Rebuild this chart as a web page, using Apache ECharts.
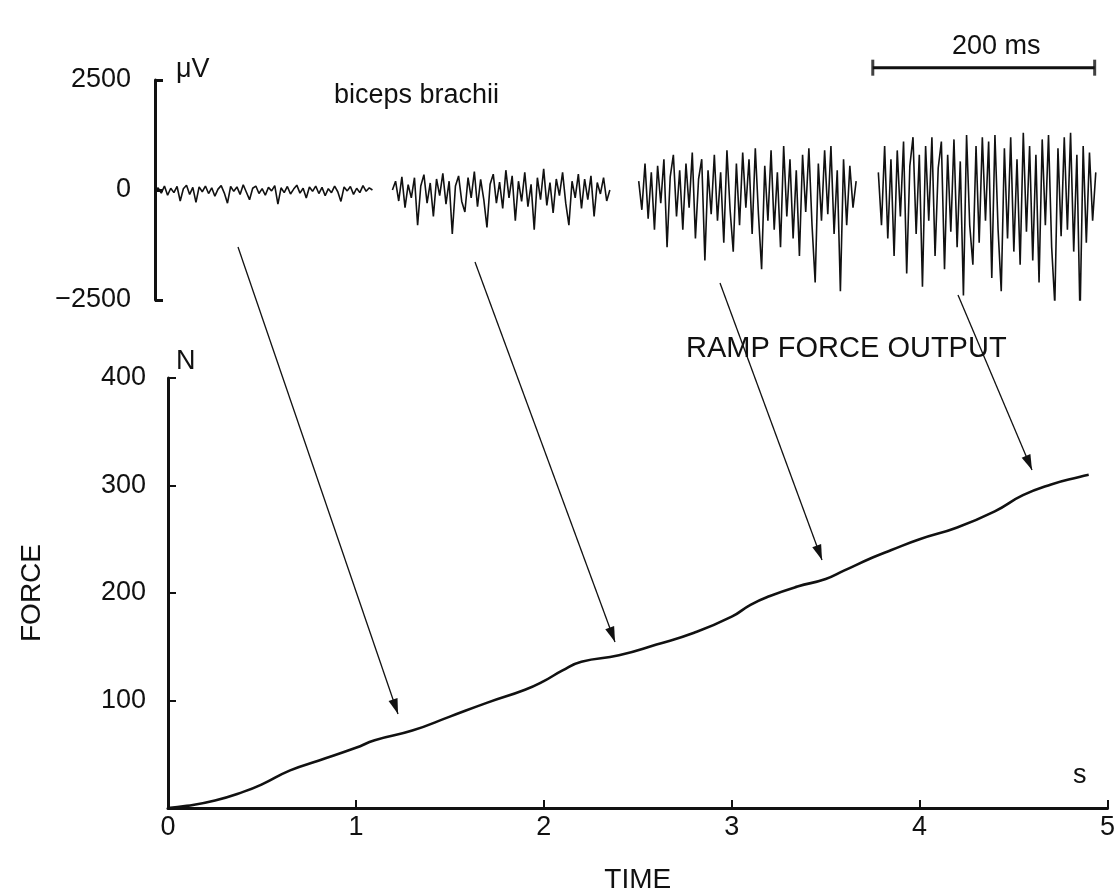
<!DOCTYPE html>
<html><head><meta charset="utf-8">
<script src="https://cdn.jsdelivr.net/npm/echarts@6/dist/echarts.min.js"></script>
<style>html,body{margin:0;padding:0;background:#fff}#c{width:1118px;height:895px}</style>
</head><body><div id="c"></div>
<script>
// EMG segments (µV), x in ms
const segStarts = [0, 214, 436, 652];
const segLen = 196;
const emg1 = [0,50,-70,90,-120,40,-60,80,-250,30,110,-100,60,-280,70,-40,90,-80,50,-140,20,100,-70,-300,80,-30,70,-100,120,-50,-220,40,90,-80,30,-120,60,-20,100,-320,50,-60,80,-90,20,110,-70,40,-180,70,-30,90,-80,60,-130,30,-60,90,-40,-260,70,-20,80,-100,40,-60,100,-30,50,0];
const emg2 = [0,200,-250,300,-400,120,-180,280,-800,90,350,-300,160,-600,250,-130,380,-320,200,-1000,90,320,-260,-500,280,-180,420,-380,240,-220,-850,130,360,-300,180,-420,450,-180,320,-700,200,-260,400,-380,130,-900,280,-220,480,-350,170,-520,250,-130,400,-300,-800,200,-180,360,-420,250,-220,320,-600,170,-90,280,-250,0];
const emg3 = [200,-450,600,-650,400,-900,550,-300,700,-1300,300,800,-600,450,-900,600,-400,850,-1100,250,700,-1600,450,-550,800,-700,400,-1200,900,-450,-1400,600,-800,850,-400,700,-1000,950,-550,-1800,550,-700,900,-900,400,-1300,1000,-600,700,-1100,450,-1500,800,-500,950,-800,-2100,600,-700,900,-550,1000,-1000,450,-2300,700,-800,550,-400,200];
const emg4 = [400,-800,1000,-1100,700,-1500,900,-600,1100,-1900,550,1200,-1000,800,-2200,1000,-700,1200,-1500,500,1100,-1800,800,-950,1150,-1300,650,-2400,1250,-800,-1700,1000,-1200,1200,-700,1100,-2000,1250,-900,-2300,950,-1100,1200,-1400,700,-1700,1300,-950,1000,-1600,800,-2100,1150,-800,1250,-1300,-2600,950,-1050,1200,-900,1300,-1400,800,-2900,1000,-1200,850,-700,400];
const emgSegs = [emg1, emg2, emg3, emg4];
const scaleBar = [647, 847];
const scaleBarLevel = 2780;
// Force ramp
const forceT = [0,0.1,0.25,0.4,0.5,0.65,0.8,1.0,1.1,1.3,1.5,1.7,1.9,2.0,2.1,2.2,2.4,2.6,2.8,3.0,3.1,3.2,3.35,3.5,3.6,3.75,3.85,4.0,4.2,4.4,4.55,4.7,4.85,4.9];
const forceN = [0,2,7,15,22,35,44,56,63,72,85,98,110,118,128,136,142,152,163,178,189,197,206,213,221,233,240,250,261,276,291,301,308,310];
const xTicks = [0,1,2,3,4,5];
const yTicks = [100,200,300,400];

const F = 'Liberation Sans, Arial, sans-serif';
const chart = echarts.init(document.getElementById('c'));
const emgSeries = emgSegs.map((arr, k) => ({
  type:'line', xAxisIndex:0, yAxisIndex:0, showSymbol:false, silent:true,
  lineStyle:{color:'#111', width:1.6},
  data: arr.map((v,i)=>[segStarts[k] + i*segLen/(arr.length-1), v])
}));
chart.setOption({
  animation:false,
  grid:[{left:155,right:20,top:80,height:220},{left:168,right:5,top:378,bottom:85}],
  xAxis:[
    {gridIndex:0,type:'value',min:0,max:850,show:false},
    {gridIndex:1,type:'value',min:0,max:5,interval:1,
     axisLine:{lineStyle:{color:'#111',width:3}},
     axisTick:{inside:true,length:8,lineStyle:{color:'#111',width:2}},
     splitLine:{show:false},
     axisLabel:{color:'#111',fontSize:27,fontFamily:F,margin:6,showMaxLabel:true,
       formatter:v=>xTicks.includes(v)?String(v):''},
     name:'TIME',nameLocation:'middle',nameGap:58,nameTextStyle:{color:'#111',fontSize:28,fontFamily:F}}
  ],
  yAxis:[
    {gridIndex:0,type:'value',min:-2500,max:2500,interval:2500,
     axisLine:{show:true,lineStyle:{color:'#111',width:3}},
     axisTick:{show:true,inside:true,length:8,lineStyle:{color:'#111',width:3}},
     splitLine:{show:false},
     axisLabel:{color:'#111',fontSize:27,fontFamily:F,margin:24,formatter:v=>v<0?'\u2212'+(-v):String(v)}},
    {gridIndex:1,type:'value',min:0,max:400,interval:100,
     axisLine:{show:true,lineStyle:{color:'#111',width:3}},
     axisTick:{show:true,inside:true,length:8,lineStyle:{color:'#111',width:2}},
     splitLine:{show:false},
     axisLabel:{color:'#111',fontSize:27,fontFamily:F,margin:22,formatter:v=>yTicks.includes(v)?String(v):''},
     name:'FORCE',nameLocation:'middle',nameGap:122,nameRotate:90,nameTextStyle:{color:'#111',fontSize:28,fontFamily:F}}
  ],
  series:[...emgSeries,
    {type:'line',xAxisIndex:1,yAxisIndex:1,showSymbol:false,smooth:true,silent:true,
     lineStyle:{color:'#111',width:2.6},data:forceT.map((t,i)=>[t,forceN[i]])},
    {type:'line',xAxisIndex:0,yAxisIndex:0,silent:true,symbol:'none',clip:false,
     lineStyle:{color:'#111',width:3},data:scaleBar.map(x=>[x,scaleBarLevel])},
    {type:'scatter',xAxisIndex:0,yAxisIndex:0,silent:true,clip:false,symbol:'rect',symbolSize:[3,16],
     itemStyle:{color:'#111'},data:scaleBar.map(x=>[x,scaleBarLevel])}
  ],
  graphic:[
    {type:'text',left:176,top:56,style:{text:'\u03bcV',fontSize:27,fontFamily:F,fill:'#111'}},
    {type:'text',left:334,top:82,style:{text:'biceps brachii',fontSize:27,fontFamily:F,fill:'#111'}},
    {type:'text',left:952,top:33,style:{text:'200 ms',fontSize:27,fontFamily:F,fill:'#111'}},
    {type:'text',left:176,top:348,style:{text:'N',fontSize:27,fontFamily:F,fill:'#111'}},
    {type:'text',left:1073,top:762,style:{text:'s',fontSize:27,fontFamily:F,fill:'#111'}},
    {type:'text',left:686,top:334,style:{text:'RAMP FORCE OUTPUT',fontSize:29,fontFamily:F,fill:'#111'}},
    ...[[238,247,398,714],[475,262,615,642],[720,283,822,560],[958,295,1032,470]].map(a=>{
      const [x1,y1,x2,y2]=a, ang=Math.atan2(y2-y1,x2-x1), L=16, w=0.3;
      return {type:'group',children:[
        {type:'line',shape:{x1,y1,x2,y2},style:{stroke:'#111',lineWidth:1.3}},
        {type:'polygon',shape:{points:[[x2,y2],[x2-L*Math.cos(ang-w),y2-L*Math.sin(ang-w)],[x2-L*Math.cos(ang+w),y2-L*Math.sin(ang+w)]]},style:{fill:'#111'}}
      ]};
    })
  ]
});
</script></body></html>
